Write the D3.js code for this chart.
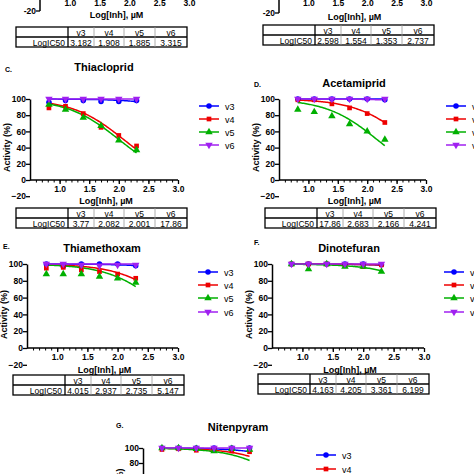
<!DOCTYPE html>
<html><head><meta charset="utf-8">
<script src="https://cdn.jsdelivr.net/npm/d3@7"></script>
<style>body{margin:0;background:#fff}svg{display:block}</style>
</head><body><svg id="c" width="474" height="474"></svg>
<script>
const xConc = [0.82, 1.1, 1.4, 1.7, 2.0, 2.3];
const seriesNames = ["v3", "v4", "v5", "v6"];
const xTicks = [1.0, 1.5, 2.0, 2.5, 3.0];
const yTicks = [-20, 0, 20, 40, 60, 80, 100];
const titles = ["Thiacloprid", "Acetamiprid", "Thiamethoxam", "Dinotefuran", "Nitenpyram"];
const letters = ["C.", "D.", "E.", "F.", "G."];
const icTopLeft = ["3.182", "1.908", "1.885", "3.315"];
const icTopRight = ["2.598", "1.554", "1.353", "2.737"];
const icC = ["3.77", "2.082", "2.001", "17.86"];
const icD = ["17.86", "2.683", "2.166", "4.241"];
const icE = ["4.015", "2.937", "2.735", "5.147"];
const icF = ["4.163", "4.205", "3.361", "6.199"];
const icG = ["3.6", "3.2", "3.0", "6.0"];
const dataC = [[96,98,98,97,97,98],[89,91,82,65,55,42],[93,87,77,67,49,37],[100,100,100,100,100,100]];
const dataD = [[100,100,100,100,100,99],[99,99,94,89,82,71],[87,84,79,69,60,50],[100,100,100,100,100,100]];
const dataE = [[100,97,100,100,100,98],[95,96,93,91,88,83],[88,88,88,85,83,78],[100,100,99,98,99,99]];
const dataF = [[100,100,100,100,100,99],[100,100,100,99,97,99],[100,94,100,97,97,91],[100,100,100,100,100,100]];
const dataG = [[100,100,100,100,100,100],[98,99,97,98,96,95],[100,100,99,96,99,98],[100,100,100,100,100,100]];
const colors = ["#0000ff", "#ee0000", "#00b000", "#a020f0"];
const shapes = [d3.symbolCircle, d3.symbolSquare, d3.symbolTriangle, d3.symbolTriangle];

const svg = d3.select("#c");
const F = "Liberation Sans, Arial, sans-serif";

function marker(g, i, x, y) {
  g.append("path").attr("d", d3.symbol().type(shapes[i]).size(i===1?22:24)())
   .attr("transform", `translate(${x},${y})` + (i===3 ? " rotate(180)" : ""))
   .attr("fill", colors[i]);
}

function table(x0, y0, vals) {
  const cols = [0, 52, 78, 108, 139, 171].map(d => x0 + d);
  const g = svg.append("g");
  g.append("rect").attr("x", cols[0]).attr("y", y0).attr("width", cols[5]-cols[0]).attr("height", 20)
    .attr("fill", "none").attr("stroke", "#000").attr("stroke-width", 1.3);
  g.append("line").attr("x1", cols[0]).attr("x2", cols[5]).attr("y1", y0+10).attr("y2", y0+10).attr("stroke", "#000").attr("stroke-width", 1.3);
  g.append("line").attr("x1", cols[1]).attr("x2", cols[1]).attr("y1", y0).attr("y2", y0+20).attr("stroke", "#000").attr("stroke-width", 1.3);
  for (let k = 2; k < 5; k++) g.append("line").attr("x1", cols[k]).attr("x2", cols[k]).attr("y1", y0).attr("y2", y0+20).attr("stroke", "#999").attr("stroke-width", 0.8);
  for (let k = 0; k < 4; k++) {
    const cx = (cols[k+1] + cols[k+2]) / 2;
    g.append("text").attr("x", cx).attr("y", y0+8.5).attr("text-anchor", "middle").attr("font-family", F).attr("font-size", 8.5).text(seriesNames[k]);
    g.append("text").attr("x", cx).attr("y", y0+18.5).attr("text-anchor", "middle").attr("font-family", F).attr("font-size", 8.5).text(vals[k]);
  }
  g.append("text").attr("x", cols[1]-3).attr("y", y0+18.5).attr("text-anchor", "end").attr("font-family", F).attr("font-size", 8.5).text("LogIC50");
}

function xAxis(x, y0px) {
  const g = svg.append("g").attr("transform", `translate(0,${y0px})`);
  g.call(d3.axisBottom(x).tickValues(d3.range(0.6, 3.0001, 0.1)).tickSize(2.5).tickFormat(""))
    .call(s => s.select(".domain").remove());
  g.selectAll("line").attr("stroke-width", 1);
  g.append("line").attr("x1", x.range()[0]).attr("x2", x.range()[1]).attr("stroke", "#000").attr("stroke-width", 1.5);
  const t = svg.append("g").attr("transform", `translate(0,${y0px})`);
  t.call(d3.axisBottom(x).tickValues(xTicks).tickSize(4).tickFormat(d3.format(".1f")))
    .call(s => s.select(".domain").remove());
  t.selectAll(".tick text").attr("y", 6).attr("font-family", F).attr("font-size", 8.5).attr("font-weight", "bold");
  t.selectAll("line").attr("stroke-width", 1.3);
}

function drawPanel(o) {
  const x = d3.scaleLinear().domain([0.5, 3.0]).range([o.ax, o.x3]);
  const y = d3.scaleLinear().domain([0, 100]).range([o.y0, o.y100]);
  const ya = svg.append("g").attr("transform", `translate(${o.ax},0)`);
  ya.call(d3.axisLeft(y).tickValues(yTicks).tickSize(4).tickSizeOuter(0))
    .call(s => s.select(".domain").attr("stroke-width", 1.5));
  ya.selectAll(".tick text").attr("font-family", F).attr("font-size", 8.5).attr("font-weight", "bold").attr("x", -4);
  ya.selectAll(".tick line").attr("stroke-width", 1.3);
  xAxis(x, y(0));
  svg.append("text").attr("x", (o.ax + o.x3) / 2 + 2).attr("y", y(-20) + 8).attr("text-anchor", "middle")
    .attr("font-family", F).attr("font-size", 9).attr("font-weight", "bold").text("Log[Inh], µM");
  svg.append("text").attr("transform", `translate(${o.ax - 20},${(y(100) + y(-20)) / 2}) rotate(-90)`)
    .attr("text-anchor", "middle").attr("font-family", F).attr("font-size", 9).attr("font-weight", "bold").text("Activity (%)");
  svg.append("text").attr("x", o.tx).attr("y", o.ty).attr("text-anchor", "middle")
    .attr("font-family", F).attr("font-size", 11).attr("font-weight", "bold").text(o.title);
  svg.append("text").attr("x", o.lx).attr("y", o.ly).attr("font-family", F).attr("font-size", 7).attr("font-weight", "bold").text(o.letter);
  const g = svg.append("g");
  const fitX = d3.range(0.82, 2.3001, 0.02);
  for (let i = 0; i < 4; i++) {
    const ic = parseFloat(o.ic[i]);
    const line = d3.line().x(d => x(d)).y(d => y(100 / (1 + Math.pow(10, d - ic))));
    g.append("path").datum(fitX).attr("d", line).attr("fill", "none").attr("stroke", colors[i]).attr("stroke-width", 1.5);
  }
  for (let i = 0; i < 4; i++) {
    o.data[i].forEach((v, j) => marker(g, i, x(xConc[j]), y(v)));
  }
  o.legendY.forEach((ly, i) => {
    g.append("line").attr("x1", o.legX).attr("x2", o.legX + 20).attr("y1", ly).attr("y2", ly).attr("stroke", colors[i]).attr("stroke-width", 1.5);
    marker(g, i, o.legX + 10, ly);
    g.append("text").attr("x", o.legX + 26).attr("y", ly + 3.5).attr("font-family", F).attr("font-size", 9).text(seriesNames[i]);
  });
  if (o.table) table(o.ax - 14, o.tableY, o.table);
}

function topPartial(ax, x3, ytick, tableX, tableY, vals) {
  const x = d3.scaleLinear().domain([0.5, 3.0]).range([ax, x3]);
  svg.append("line").attr("x1", ax).attr("x2", ax).attr("y1", 0).attr("y2", ytick).attr("stroke", "#000").attr("stroke-width", 1.5);
  svg.append("line").attr("x1", ax - 4).attr("x2", ax).attr("y1", ytick).attr("y2", ytick).attr("stroke", "#000").attr("stroke-width", 1.3);
  svg.append("text").attr("x", ax - 4).attr("y", ytick + 3).attr("text-anchor", "end").attr("font-family", F).attr("font-size", 8.5).attr("font-weight", "bold").text("-20");
  const t = svg.append("g").attr("transform", `translate(0,-6)`);
  t.call(d3.axisBottom(x).tickValues(xTicks).tickSize(0).tickFormat(d3.format(".1f"))).call(s => s.select(".domain").remove());
  t.selectAll(".tick text").attr("y", 6).attr("font-family", F).attr("font-size", 8.5).attr("font-weight", "bold");
  svg.append("text").attr("x", (ax + x3) / 2 + 2).attr("y", ytick + 7).attr("text-anchor", "middle").attr("font-family", F).attr("font-size", 9).attr("font-weight", "bold").text("Log[Inh], µM");
  table(tableX, tableY, vals);
}
topPartial(40, 189, 11, 16, 27, icTopLeft);
topPartial(279, 426, 13, 263, 25, icTopRight);

drawPanel({ax:30, x3:178, y100:99, y0:180, title:titles[0], tx:104, ty:71, letter:letters[0], lx:5, ly:72, ic:icC, data:dataC, legX:199, legendY:[106,119,132,145], table:icC, tableY:208});
drawPanel({ax:279, x3:426, y100:99, y0:180, title:titles[1], tx:354, ty:87, letter:letters[1], lx:254, ly:87, ic:icD, data:dataD, legX:446, legendY:[106,119,132,145], table:icD, tableY:208});
drawPanel({ax:27, x3:178, y100:264, y0:348, title:titles[2], tx:102, ty:252, letter:letters[2], lx:3, ly:249, ic:icE, data:dataE, legX:198, legendY:[272,285,298,312], table:icE, tableY:375});
drawPanel({ax:272, x3:424, y100:264, y0:348, title:titles[3], tx:349, ty:252, letter:letters[3], lx:254, ly:245, ic:icF, data:dataF, legX:444, legendY:[272,285,298,312], table:icF, tableY:374});
drawPanel({ax:143, x3:291, y100:448, y0:523, title:titles[4], tx:238, ty:431, letter:letters[4], lx:116, ly:428, ic:icG, data:dataG, legX:316, legendY:[455,469], table:null});
</script></body></html>
